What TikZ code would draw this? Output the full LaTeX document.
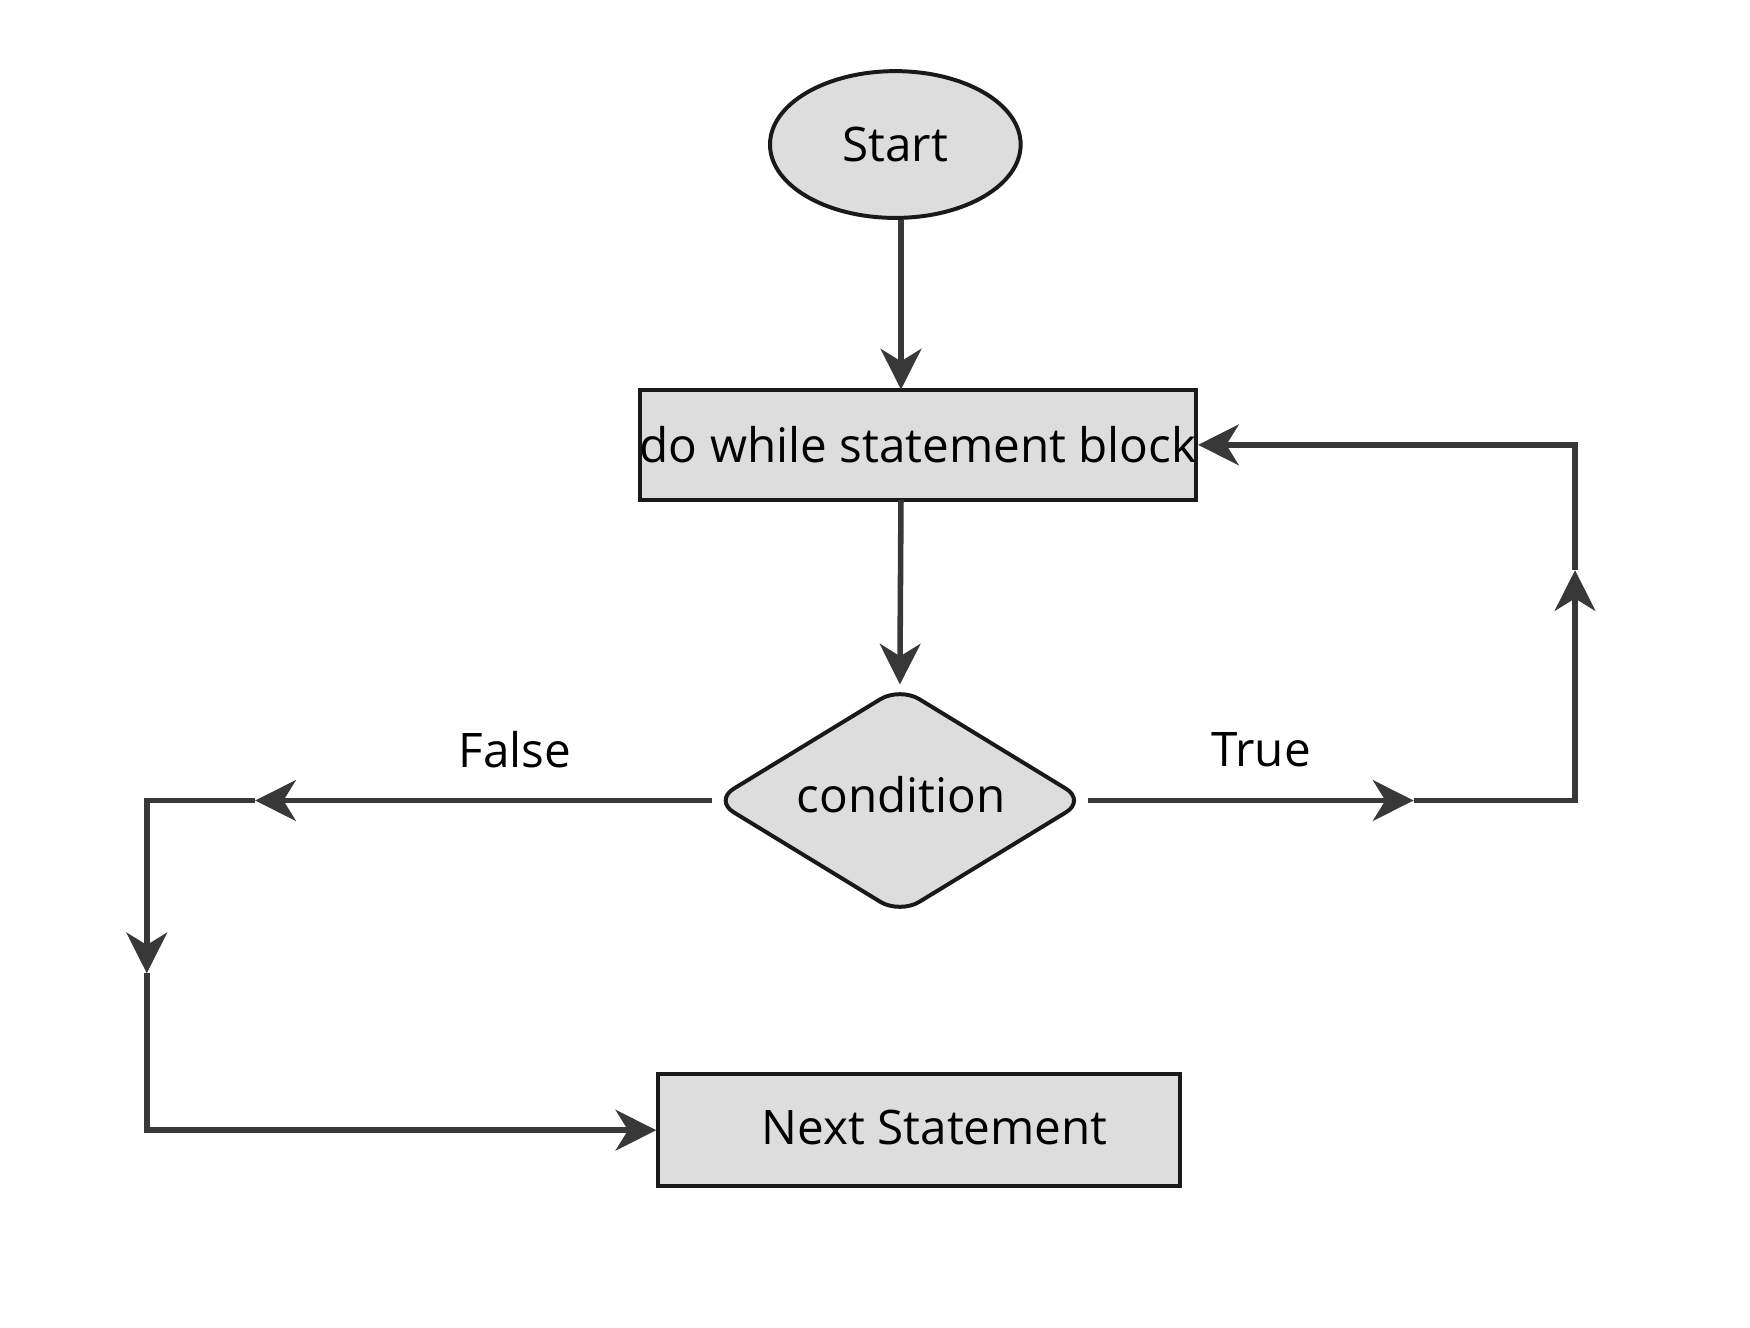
\documentclass[tikz,border=0pt]{standalone}
\usepackage{fontspec}
\setmainfont{Open Sans}
\usetikzlibrary{shapes.geometric,arrows.meta}
\definecolor{ln}{HTML}{383838}
\definecolor{fl}{HTML}{DDDDDD}
\begin{document}
\begin{tikzpicture}[x=0.1mm,y=-0.1mm,
  box/.style={draw=black!90,line width=1pt,fill=fl,font=\fontsize{12}{14}\selectfont,inner sep=0pt},
  con/.style={draw=ln,line width=1.4pt,-{Stealth[length=3.6mm,width=3.6mm,inset=1.1mm]}},
  lab/.style={font=\fontsize{12}{14}\selectfont}]
\useasboundingbox (0,0) rectangle (1550,1176);
\node[box,ellipse,minimum width=222\pgflinewidth*0+22.2mm,minimum height=13mm] (s) at (793,128) {Start};
\node[box,minimum width=46.2mm,minimum height=9.8mm] (b) at (813,394) {do while statement block};
\node[box,diamond,aspect=1.63,minimum width=33mm,minimum height=20.2mm,rounded corners=2mm] (d) at (797,709) {};
\node[lab] at (798,704) {condition};
\node[box,minimum width=46.2mm,minimum height=9.9mm] (n) at (814,1001) {};
\node[lab] at (828,999) {Next Statement};
\node[lab] at (456,664) {False};
\node[lab] at (1117,664) {True};
\coordinate (t1) at (1252,709);
\coordinate (t2) at (1395,709);
\coordinate (t3) at (1395,505);
\coordinate (t4) at (1395,394);
\coordinate (f1) at (226,709);
\coordinate (f2) at (130,709);
\coordinate (f3) at (130,862);
\coordinate (f4) at (130,1001);
\draw[con] (s.south -| 798,0) -- (798,345);
\draw[con] (798,443) -- (d.north);
\draw[con] (d.east) -- (t1);
\draw[con] (t1) -- (t2) -- (t3);
\draw[con] (t3) -- (t4) -- (b.east);
\draw[con] (d.west) -- (f1);
\draw[con] (f1) -- (f2) -- (f3);
\draw[con] (f3) -- (f4) -- (n.west);
\end{tikzpicture}
\end{document}
